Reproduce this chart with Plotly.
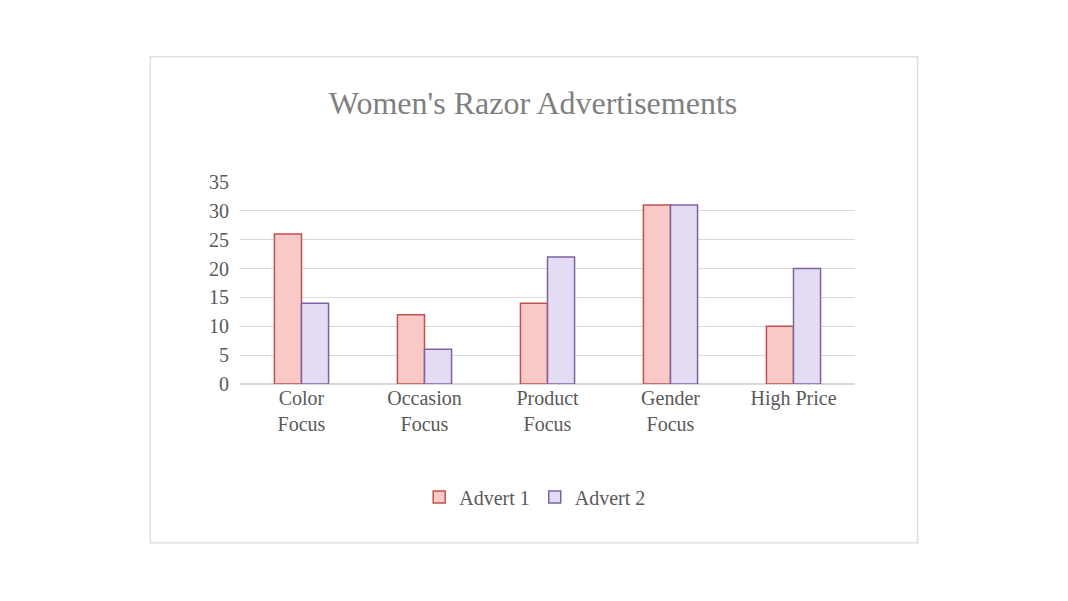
import plotly.graph_objects as go

categories = ["Color<br>Focus", "Occasion<br>Focus", "Product<br>Focus", "Gender<br>Focus", "High Price"]
advert1 = [26, 12, 14, 31, 10]
advert2 = [14, 6, 22, 31, 20]

font = "Liberation Serif"
fig = go.Figure()
fig.add_bar(x=categories, y=advert1, name="Advert 1",
            marker=dict(color="#f9c9c7", line=dict(color="#c0504d", width=1.5)))
fig.add_bar(x=categories, y=advert2, name="Advert 2",
            marker=dict(color="#e3dcf3", line=dict(color="#7f62a0", width=1.5)))

fig.update_layout(
    width=1068, height=601, paper_bgcolor="white", plot_bgcolor="white",
    margin=dict(l=232, r=221, t=174, b=225),
    barmode="group", bargap=0.56, bargroupgap=0,
    font=dict(family=font, color="#595959", size=20),
    title=dict(text="Women's Razor Advertisements", x=0.4916, y=0.842,
               xanchor="center", yanchor="middle",
               font=dict(family=font, size=32, color="#7f7f7f")),
    xaxis=dict(showline=False, tickfont=dict(size=20, color="#595959")),
    yaxis=dict(range=[0, 35], dtick=5, gridcolor="#d9d9d9", zeroline=True,
               zerolinecolor="#d9d9d9", tickfont=dict(size=20, color="#595959"), ticklabelstandoff=10),
    legend=dict(orientation="h", x=0.48, y=-0.56, xanchor="center", yanchor="middle",
                font=dict(size=20, color="#595959")),
    shapes=[dict(type="rect", xref="paper", yref="paper", x0=-0.146, x1=1.102,
                 y0=-0.787, y1=1.619, line=dict(color="#d9d9d9", width=1.2))],
)
fig.write_html("out.html")
